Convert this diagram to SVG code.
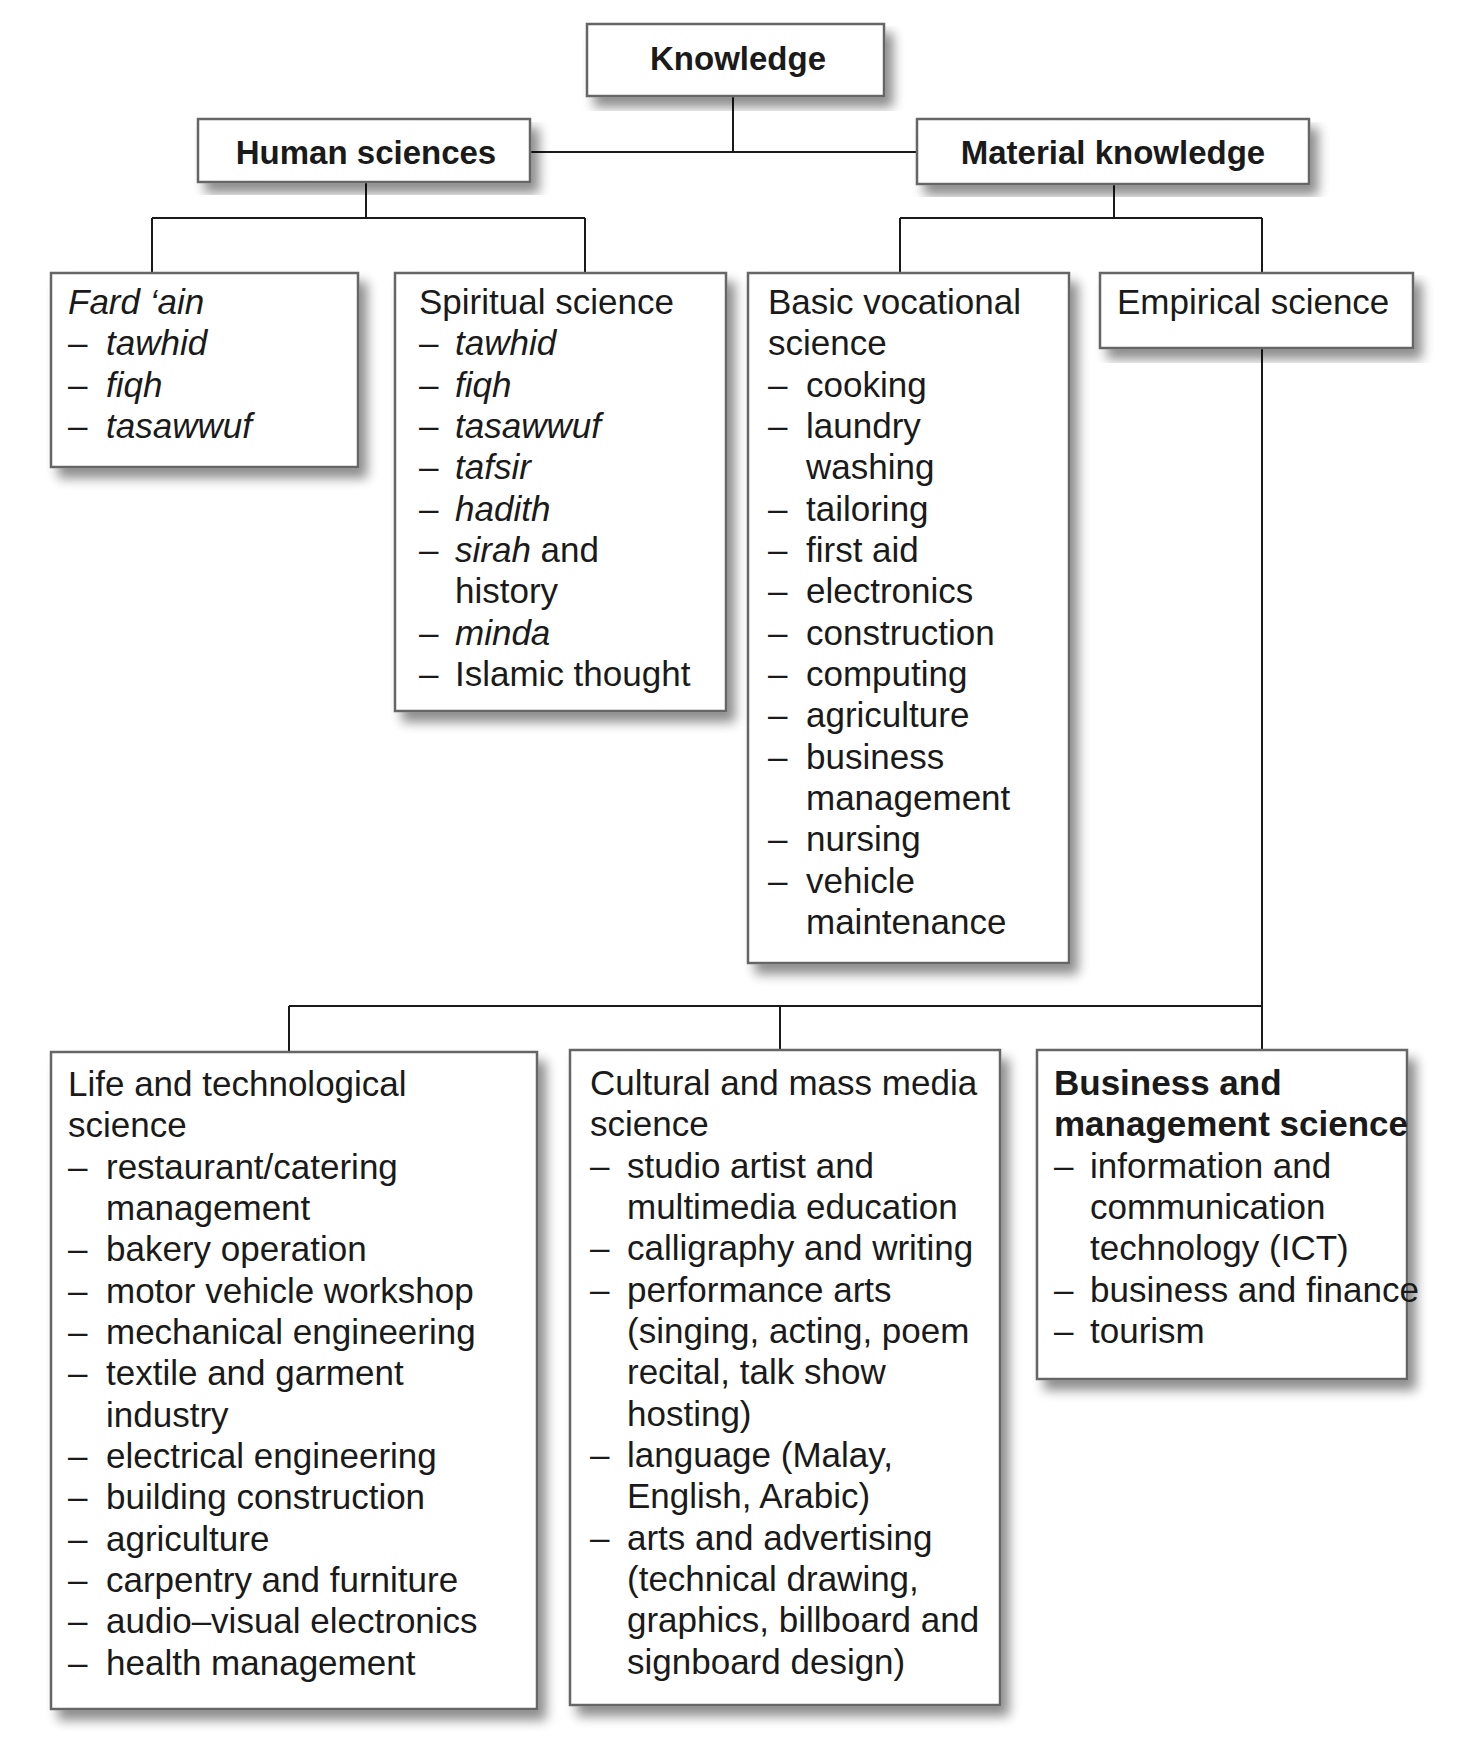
<svg xmlns="http://www.w3.org/2000/svg" width="1466" height="1742" viewBox="0 0 1466 1742">
<defs>
<filter id="sh" x="-10%" y="-10%" width="130%" height="130%">
<feGaussianBlur in="SourceAlpha" stdDeviation="6"/>
<feOffset dx="8" dy="10" result="b"/>
<feComponentTransfer><feFuncA type="linear" slope="0.45"/></feComponentTransfer>
<feMerge><feMergeNode/><feMergeNode in="SourceGraphic"/></feMerge>
</filter>
</defs>
<style>
.box{fill:#fff;stroke:#666;stroke-width:2.5;filter:url(#sh)}
.t{font-family:"Liberation Sans",Arial,sans-serif;font-size:35px;fill:#1a1a1a}
.b{font-weight:bold}
.h{font-family:"Liberation Sans",Arial,sans-serif;font-size:33px;font-weight:bold;fill:#1a1a1a;text-anchor:middle}
.i{font-style:italic}
.c{fill:none;stroke:#1a1a1a;stroke-width:2}
</style>
<rect width="1466" height="1742" fill="#fff"/>
<g id="connectors">
<path class="c" d="M733 96V152M530 152H917M366 182V218M152 218H585M152 218V273M585 218V273M1114 184V218M900 218H1262M900 218V273M1262 218V273M1262 348V1006M289 1006H1262M289 1006V1052M780 1006V1050M1262 1006V1050"/>
</g>
<g id="knowledge"><rect class="box" x="587" y="24" width="297" height="72"/><text class="h" x="738" y="70" font-size="36">Knowledge</text></g>
<g id="human"><rect class="box" x="198" y="119" width="332" height="63"/><text class="h" x="366" y="164">Human sciences</text></g>
<g id="material"><rect class="box" x="917" y="119" width="392" height="65"/><text class="h" x="1113" y="164">Material knowledge</text></g>
<g id="fard"><rect class="box" x="51" y="273" width="307" height="194"/>
<text class="t"><tspan x="68" y="314" class="i">Fard ‘ain</tspan>
<tspan x="68" y="355">–</tspan><tspan x="106" class="i">tawhid</tspan>
<tspan x="68" y="397">–</tspan><tspan x="106" class="i">fiqh</tspan>
<tspan x="68" y="438">–</tspan><tspan x="106" class="i">tasawwuf</tspan></text></g>
<g id="spiritual"><rect class="box" x="395" y="273" width="331" height="438"/>
<text class="t"><tspan x="419" y="314">Spiritual science</tspan>
<tspan x="419" y="355">–</tspan><tspan x="455" class="i">tawhid</tspan>
<tspan x="419" y="397">–</tspan><tspan x="455" class="i">fiqh</tspan>
<tspan x="419" y="438">–</tspan><tspan x="455" class="i">tasawwuf</tspan>
<tspan x="419" y="479">–</tspan><tspan x="455" class="i">tafsir</tspan>
<tspan x="419" y="521">–</tspan><tspan x="455" class="i">hadith</tspan>
<tspan x="419" y="562">–</tspan><tspan x="455" class="i">sirah</tspan><tspan> and</tspan>
<tspan x="455" y="603">history</tspan>
<tspan x="419" y="645">–</tspan><tspan x="455" class="i">minda</tspan>
<tspan x="419" y="686">–</tspan><tspan x="455">Islamic thought</tspan></text></g>
<g id="basic"><rect class="box" x="748" y="273" width="321" height="690"/>
<text class="t"><tspan x="768" y="314">Basic vocational</tspan>
<tspan x="768" y="355">science</tspan>
<tspan x="768" y="397">–</tspan><tspan x="806">cooking</tspan>
<tspan x="768" y="438">–</tspan><tspan x="806">laundry</tspan>
<tspan x="806" y="479">washing</tspan>
<tspan x="768" y="521">–</tspan><tspan x="806">tailoring</tspan>
<tspan x="768" y="562">–</tspan><tspan x="806">first aid</tspan>
<tspan x="768" y="603">–</tspan><tspan x="806">electronics</tspan>
<tspan x="768" y="645">–</tspan><tspan x="806">construction</tspan>
<tspan x="768" y="686">–</tspan><tspan x="806">computing</tspan>
<tspan x="768" y="727">–</tspan><tspan x="806">agriculture</tspan>
<tspan x="768" y="769">–</tspan><tspan x="806">business</tspan>
<tspan x="806" y="810">management</tspan>
<tspan x="768" y="851">–</tspan><tspan x="806">nursing</tspan>
<tspan x="768" y="893">–</tspan><tspan x="806">vehicle</tspan>
<tspan x="806" y="934">maintenance</tspan></text></g>
<g id="empirical"><rect class="box" x="1100" y="273" width="313" height="75"/>
<text class="t" x="1117" y="314">Empirical science</text></g>
<g id="life"><rect class="box" x="51" y="1052" width="486" height="657"/>
<text class="t"><tspan x="68" y="1096">Life and technological</tspan>
<tspan x="68" y="1137">science</tspan>
<tspan x="68" y="1179">–</tspan><tspan x="106">restaurant/catering</tspan>
<tspan x="106" y="1220">management</tspan>
<tspan x="68" y="1261">–</tspan><tspan x="106">bakery operation</tspan>
<tspan x="68" y="1303">–</tspan><tspan x="106">motor vehicle workshop</tspan>
<tspan x="68" y="1344">–</tspan><tspan x="106">mechanical engineering</tspan>
<tspan x="68" y="1385">–</tspan><tspan x="106">textile and garment</tspan>
<tspan x="106" y="1427">industry</tspan>
<tspan x="68" y="1468">–</tspan><tspan x="106">electrical engineering</tspan>
<tspan x="68" y="1509">–</tspan><tspan x="106">building construction</tspan>
<tspan x="68" y="1551">–</tspan><tspan x="106">agriculture</tspan>
<tspan x="68" y="1592">–</tspan><tspan x="106">carpentry and furniture</tspan>
<tspan x="68" y="1633">–</tspan><tspan x="106">audio–visual electronics</tspan>
<tspan x="68" y="1675">–</tspan><tspan x="106">health management</tspan></text></g>
<g id="cultural"><rect class="box" x="570" y="1050" width="430" height="655"/>
<text class="t"><tspan x="590" y="1095">Cultural and mass media</tspan>
<tspan x="590" y="1136">science</tspan>
<tspan x="590" y="1178">–</tspan><tspan x="627">studio artist and</tspan>
<tspan x="627" y="1219">multimedia education</tspan>
<tspan x="590" y="1260">–</tspan><tspan x="627">calligraphy and writing</tspan>
<tspan x="590" y="1302">–</tspan><tspan x="627">performance arts</tspan>
<tspan x="627" y="1343">(singing, acting, poem</tspan>
<tspan x="627" y="1384">recital, talk show</tspan>
<tspan x="627" y="1426">hosting)</tspan>
<tspan x="590" y="1467">–</tspan><tspan x="627">language (Malay,</tspan>
<tspan x="627" y="1508">English, Arabic)</tspan>
<tspan x="590" y="1550">–</tspan><tspan x="627">arts and advertising</tspan>
<tspan x="627" y="1591">(technical drawing,</tspan>
<tspan x="627" y="1632">graphics, billboard and</tspan>
<tspan x="627" y="1674">signboard design)</tspan></text></g>
<g id="business"><rect class="box" x="1037" y="1050" width="370" height="329"/>
<text class="t"><tspan x="1054" y="1095" class="b">Business and</tspan>
<tspan x="1054" y="1136" class="b">management science</tspan>
<tspan x="1054" y="1178">–</tspan><tspan x="1090">information and</tspan>
<tspan x="1090" y="1219">communication</tspan>
<tspan x="1090" y="1260">technology (ICT)</tspan>
<tspan x="1054" y="1302">–</tspan><tspan x="1090">business and finance</tspan>
<tspan x="1054" y="1343">–</tspan><tspan x="1090">tourism</tspan></text></g>
</svg>
